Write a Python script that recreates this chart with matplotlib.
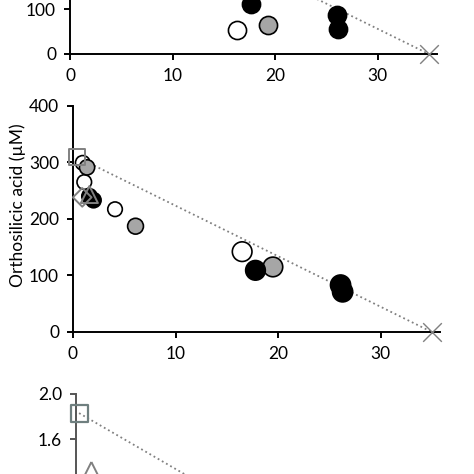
import numpy as np
import matplotlib
matplotlib.use('Agg')
import matplotlib.pyplot as plt

plt.rcParams['font.family'] = ['Lato', 'DejaVu Sans']
plt.rcParams['font.size'] = 12.5

# top panel (partly visible)
top_white_x = [16.3]
top_white_y = [53]
top_gray_x = [19.3]
top_gray_y = [64]
top_black_x = [17.7, 26.0, 26.1]
top_black_y = [111, 87, 56]
top_line_x = [0, 35]
top_line_y = [392, 0]

# middle panel
mid_white_x = [0.95, 1.1, 4.1, 16.5]
mid_white_y = [299, 265, 217, 142]
mid_gray_x = [1.37, 6.1, 19.5]
mid_gray_y = [291, 187, 115]
mid_black_x = [1.6, 2.0, 17.8, 26.1, 26.3]
mid_black_y = [240, 233, 109, 83, 71]
mid_square = (0.4, 309)
mid_diamond = (0.9, 238)
mid_triangle = (1.6, 243)
end_point = (35, 0)

# bottom panel (partly visible)
bot_square = (0.3, 1.83)
bot_triangle = (1.5, 1.32)
bot_line_x = [0.3, 35]
bot_line_y = [1.83, 0]

W = 474.0
def box(left, top, right, bottom):
    return [left / W, 1 - bottom / W, (right - left) / W, (bottom - top) / W]

fig = plt.figure(figsize=(4.74, 4.74), dpi=100)
ax_top = fig.add_axes(box(70, 54 - 225, 437, 54))
ax_mid = fig.add_axes(box(73, 105.7, 440, 332))
ax_bot = fig.add_axes(box(76, 394, 443, 394 + 225))

gray = '#a6a6a6'
edge_gray = '#808080'

def style(ax, color='black'):
    for s in ['top', 'right']:
        ax.spines[s].set_visible(False)
    for s in ['left', 'bottom']:
        ax.spines[s].set_linewidth(1.4)
        ax.spines[s].set_color(color)
    ax.tick_params(direction='out', length=4, width=1.4, color=color, pad=6)
    ax.set_xlim(0, 35.8)

def circles(ax, x, y, fc, size):
    ax.scatter(x, y, s=size, facecolor=fc, edgecolor='black', linewidth=1.2, zorder=3)

# top
ax_top.plot(top_line_x, top_line_y, ls=':', color=edge_gray, lw=1.3, zorder=2)
circles(ax_top, top_white_x, top_white_y, 'white', 170)
circles(ax_top, top_gray_x, top_gray_y, gray, 170)
circles(ax_top, top_black_x, top_black_y, 'black', 170)
ax_top.scatter(*end_point, marker='x', s=180, color=edge_gray, linewidth=1.0, zorder=4, clip_on=False)
ax_top.set_ylim(0, 500)
ax_top.set_yticks([0, 100, 200, 300, 400, 500])
ax_top.set_xticks([0, 10, 20, 30])
style(ax_top)

# middle
ax_mid.plot([mid_square[0], end_point[0]], [mid_square[1], end_point[1]], ls=':', color=edge_gray, lw=1.3, zorder=2)
mid_white_s = [110, 110, 110, 200]
mid_gray_s = [120, 130, 200]
mid_black_s = [120, 120, 200, 210, 210]
circles(ax_mid, mid_white_x, mid_white_y, 'white', mid_white_s)
circles(ax_mid, mid_gray_x, mid_gray_y, gray, mid_gray_s)
circles(ax_mid, mid_black_x, mid_black_y, 'black', mid_black_s)
ax_mid.scatter(*mid_square, marker='s', s=130, facecolor='none', edgecolor=edge_gray, linewidth=1.4, zorder=4, clip_on=False)
ax_mid.scatter(*mid_diamond, marker='D', s=90, facecolor='none', edgecolor=edge_gray, linewidth=1.4, zorder=4, clip_on=False)
ax_mid.scatter(*mid_triangle, marker='^', s=150, facecolor='none', edgecolor=edge_gray, linewidth=1.4, zorder=4)
ax_mid.scatter(*end_point, marker='x', s=180, color=edge_gray, linewidth=1.0, zorder=4, clip_on=False)
ax_mid.set_ylim(0, 400)
ax_mid.set_yticks([0, 100, 200, 300, 400])
ax_mid.set_xticks([0, 10, 20, 30])
style(ax_mid)

# bottom
ax_bot.plot(bot_line_x, bot_line_y, ls=':', color=edge_gray, lw=1.3, zorder=2)
ax_bot.scatter(*bot_square, marker='s', s=150, facecolor='none', edgecolor='#6f7f7f', linewidth=1.6, zorder=4, clip_on=False)
ax_bot.scatter(*bot_triangle, marker='^', s=150, facecolor='none', edgecolor=edge_gray, linewidth=1.4, zorder=4)
ax_bot.set_ylim(0, 2.0)
ax_bot.set_yticks([0, 0.4, 0.8, 1.2, 1.6, 2.0])
ax_bot.set_yticklabels(['0.0', '0.4', '0.8', '1.2', '1.6', '2.0'])
ax_bot.set_xticks([0, 10, 20, 30])
style(ax_bot, '#555555')

fig.text(0.038, 1 - 205 / W, 'Orthosilicic acid (\u00b5M)', rotation=90, ha='center', va='center', fontsize=12.5)

fig.savefig('out.png', dpi=100)
